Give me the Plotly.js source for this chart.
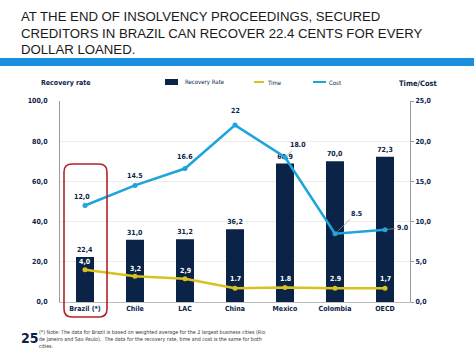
<!DOCTYPE html>
<html>
<head>
<meta charset="utf-8">
<script src="https://cdn.plot.ly/plotly-3.0.1.min.js"></script>
<style>
html,body{margin:0;padding:0;background:#fff;}
#chart{width:474px;height:355px;}
</style>
</head>
<body>
<div id="chart"></div>
<script>
// ---- data ----
const categories = ["Brazil (*)", "Chile", "LAC", "China", "Mexico", "Colombia", "OECD"];
const recoveryRate = [22.4, 31.0, 31.2, 36.2, 68.9, 70.0, 72.3];
const recoveryLabels = ["22,4", "31,0", "31,2", "36,2", "68,9", "70,0", "72,3"];
const timeValues = [4.0, 3.2, 2.9, 1.7, 1.8, 1.7, 1.7];
const timeLabels = ["4,0", "3,2", "2,9", "1.7", "1.8", "2.9", "1,7"];
const costValues = [12.0, 14.5, 16.6, 22, 18.0, 8.5, 9.0];
const costLabels = ["12,0", "14.5", "16.6", "22", "18.0", "8.5", "9.0"];
const leftTickVals = [0, 20, 40, 60, 80, 100];
const leftTickText = ["0,0", "20,0", "40,0", "60,0", "80,0", "100,0"];
const rightTickVals = [0, 5, 10, 15, 20, 25];
const rightTickText = ["0,0", "5,0", "10,0", "15,0", "20,0", "25,0"];
const titleLines = [
  "AT THE END OF INSOLVENCY PROCEEDINGS, SECURED",
  "CREDITORS IN BRAZIL CAN RECOVER 22.4 CENTS FOR EVERY",
  "DOLLAR LOANED."
];

const NAVY = "#0b2347";
const YELLOW = "#d8c21c";
const CYAN = "#1ea4da";
const COND = "'DejaVu Sans Condensed', sans-serif";

// plot area in px: x 60..410, y 101..302
const L = 60, R = 410, T = 101, B = 302;
const px = x => (x - L) / (R - L);
const py = y => (B - y) / (B - T);

const traces = [
  {
    type: "bar", x: categories, y: recoveryRate, name: "Recovery Rate",
    marker: {color: NAVY}, width: 0.36,
    text: recoveryLabels, textposition: "outside", cliponaxis: false,
    textfont: {family: COND, size: 7, color: NAVY, weight: "bold"},
    hoverinfo: "x+y"
  },
  {
    type: "scatter", mode: "lines+markers", x: categories, y: timeValues, yaxis: "y2", name: "Time",
    line: {color: YELLOW, width: 2.5}, marker: {color: YELLOW, size: 5}
  },
  {
    type: "scatter", mode: "lines+markers", x: categories, y: costValues, yaxis: "y2", name: "Cost",
    line: {color: CYAN, width: 2.5}, marker: {color: CYAN, size: 5}
  }
];

const annotations = [];
// title lines
const titleY = [17, 33, 49];
titleLines.forEach((t, i) => {
  annotations.push({xref: "paper", yref: "paper", x: px(19), y: py(titleY[i]), text: t,
    showarrow: false, xanchor: "left", yanchor: "middle",
    font: {family: "'Liberation Sans', Arial, sans-serif", size: 13.2, color: "#1a1a1a"}});
});
// time labels (white, inside bars)
const timeShift = [2, 1.5, 2, 3, 3, 3, 3];
categories.forEach((c, i) => {
  annotations.push({
    x: c, y: timeValues[i], xref: "x", yref: "y2", text: timeLabels[i],
    showarrow: false, yshift: timeShift[i], yanchor: "bottom",
    font: {family: COND, size: 7, color: "#ffffff", weight: "bold"}
  });
});
// cost labels
const costAx = [-3, 0, 0, 0, 13, 21, 18];
const costAy = [-9, 0, 0, 0, -12, -20, -2];
const costArrow = [true, false, false, false, true, true, true];
const costShift = [0, 3, 6, 8, 0, 0, 0];
categories.forEach((c, i) => {
  const a = {
    x: c, y: costValues[i], xref: "x", yref: "y2", text: costLabels[i],
    font: {family: COND, size: 7, color: NAVY, weight: "bold"}
  };
  if (costArrow[i]) {
    Object.assign(a, {showarrow: true, arrowhead: 0, arrowwidth: 0.7, arrowcolor: "#999999",
      ax: costAx[i], ay: costAy[i], standoff: 0, xanchor: "center", yanchor: "middle"});
  } else {
    Object.assign(a, {showarrow: false, yanchor: "bottom", yshift: costShift[i]});
  }
  annotations.push(a);
});

// axis titles, legend texts, footer
annotations.push(
  {xref: "paper", yref: "paper", x: px(39), y: py(83), text: "Recovery rate", showarrow: false,
   xanchor: "left", yanchor: "middle", font: {family: COND, size: 7, color: NAVY, weight: "bold"}},
  {xref: "paper", yref: "paper", x: px(397), y: py(83), text: "Time/Cost", showarrow: false,
   xanchor: "left", yanchor: "middle", font: {family: COND, size: 7.5, color: NAVY, weight: "bold"}},
  {xref: "paper", yref: "paper", x: px(183), y: py(82), text: "Recovery Rate", showarrow: false,
   xanchor: "left", yanchor: "middle", font: {family: COND, size: 6, color: NAVY}},
  {xref: "paper", yref: "paper", x: px(265), y: py(82), text: "Time", showarrow: false,
   xanchor: "left", yanchor: "middle", font: {family: COND, size: 6, color: NAVY}},
  {xref: "paper", yref: "paper", x: px(327), y: py(82), text: "Cost", showarrow: false,
   xanchor: "left", yanchor: "middle", font: {family: COND, size: 6, color: NAVY}},
  {xref: "paper", yref: "paper", x: px(19), y: py(338), text: "25", showarrow: false,
   xanchor: "left", yanchor: "middle", font: {family: COND, size: 14, color: NAVY, weight: "bold"}},
  {xref: "paper", yref: "paper", x: px(37), y: py(327), text:
   "(*) Note: The data for Brazil is based on weighted average for the 2 largest business cities (Rio<br>de Janeiro and Sao Paulo).  The data for the recovery rate, time and cost is the same for both<br>cities.",
   showarrow: false, xanchor: "left", yanchor: "top", align: "left",
   font: {family: COND, size: 5.3, color: "#333333"}}
);

// red rounded rectangle
const rx0 = px(64), rx1 = px(107), ry0 = py(317), ry1 = py(164);
const cx = 8 / (R - L), cy = 8 / (B - T);
const rpath = `M ${rx0 + cx} ${ry1} L ${rx1 - cx} ${ry1} Q ${rx1} ${ry1} ${rx1} ${ry1 - cy} ` +
  `L ${rx1} ${ry0 + cy} Q ${rx1} ${ry0} ${rx1 - cx} ${ry0} L ${rx0 + cx} ${ry0} ` +
  `Q ${rx0} ${ry0} ${rx0} ${ry0 + cy} L ${rx0} ${ry1 - cy} Q ${rx0} ${ry1} ${rx0 + cx} ${ry1} Z`;

const shapes = [
  // blue band
  {type: "rect", xref: "paper", yref: "paper", x0: px(0), x1: px(474), y0: py(66), y1: py(58),
   fillcolor: "#1b8fdf", line: {width: 0}, layer: "above"},
  // red box
  {type: "path", xref: "paper", yref: "paper", path: rpath, line: {color: "#b3232a", width: 1.6}, layer: "above"},
  // legend swatches
  {type: "rect", xref: "paper", yref: "paper", x0: px(165), x1: px(178), y0: py(85), y1: py(79),
   fillcolor: NAVY, line: {width: 0}},
  {type: "line", xref: "paper", yref: "paper", x0: px(254), x1: px(264), y0: py(82), y1: py(82),
   line: {color: YELLOW, width: 2}},
  {type: "line", xref: "paper", yref: "paper", x0: px(313), x1: px(326), y0: py(82), y1: py(82),
   line: {color: CYAN, width: 2}}
];

const layout = {
  width: 474, height: 355,
  margin: {l: L, r: 474 - R, t: T, b: 355 - B, pad: 0},
  paper_bgcolor: "#ffffff", plot_bgcolor: "#ffffff",
  showlegend: false,
  xaxis: {
    type: "category", range: [-0.5, 6.5], showgrid: false, zeroline: false,
    showline: true, linecolor: "#bdbdbd", linewidth: 1, ticks: "",
    tickfont: {family: COND, size: 7, color: NAVY, weight: "bold"}
  },
  yaxis: {
    range: [0, 100], tickvals: leftTickVals, ticktext: leftTickText,
    showgrid: true, gridcolor: "#ececec", zeroline: false,
    showline: true, linecolor: "#9a9a9a", linewidth: 1, ticks: "", ticklabelstandoff: 10,
    tickfont: {family: COND, size: 7, color: NAVY, weight: "bold"}
  },
  yaxis2: {
    range: [0, 25], tickvals: rightTickVals, ticktext: rightTickText, overlaying: "y", side: "right",
    showgrid: false, zeroline: false, showline: true, linecolor: "#9a9a9a", linewidth: 1,
    ticks: "outside", ticklen: 3, tickcolor: "#9a9a9a",
    tickfont: {family: COND, size: 7, color: NAVY, weight: "bold"}
  },
  annotations: annotations,
  shapes: shapes
};

Plotly.newPlot("chart", traces, layout, {displayModeBar: false, staticPlot: true});
</script>
</body>
</html>
